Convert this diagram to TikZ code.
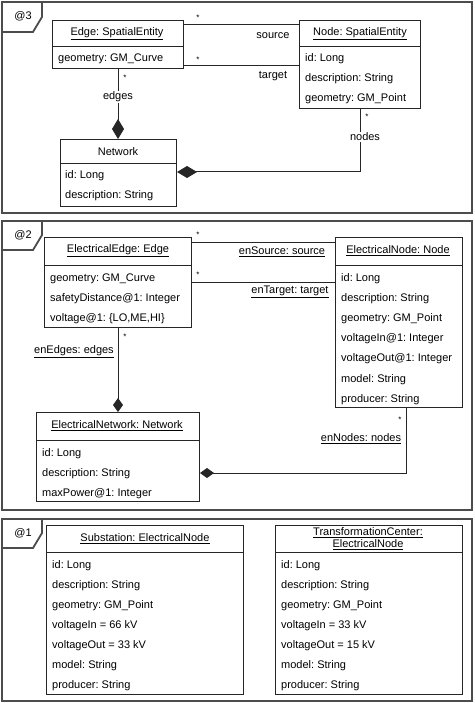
\documentclass[tikz,border=0pt]{standalone}
\usepackage{fontspec}
\setmainfont{Liberation Sans}
\usetikzlibrary{arrows.meta,positioning,calc}
\frenchspacing

\begin{document}
\begin{tikzpicture}[x=1pt,y=-1pt,>=latex,
  every node/.style={font=\fontsize{11}{12}\selectfont},
  frame/.style={draw=black!70,line width=1.8pt},
  box/.style={draw=black!85,line width=1pt,fill=white,anchor=north west,inner sep=0pt},
  attr/.style={anchor=west,inner sep=0pt},
  mult/.style={font=\footnotesize,inner sep=1pt},
  link/.style={draw=black!85,line width=1pt},
  comp/.style={link,-{Diamond[length=20pt,width=12pt]}},
  smallcomp/.style={link,-{Diamond[length=14pt,width=10pt]}}]
  \useasboundingbox (0,0) rectangle (474,703);

  % level @3
  \draw[frame] (2,2) rectangle (472,213);
  \draw[frame] (2,32) -- (33,32) -- (42,17) -- (42,2);
  \node (lvlC) at (23,16) {@3};
  \node[box,minimum width=131pt,minimum height=48pt] (edge) at (52,20) {};
  \draw[link] (edge.west |- 0,47) -- (edge.east |- 0,47);
  \node (edgeT) at (117,34) {\underline{Edge: SpatialEntity}};
  \node[attr] (edgeA) at (58,59) {geometry: GM\_Curve};
  \node[box,minimum width=121pt,minimum height=88pt] (node) at (299,20) {};
  \draw[link] (node.west |- 0,47) -- (node.east |- 0,47);
  \node (nodeT) at (360,34) {\underline{Node: SpatialEntity}};
  \node[attr] (nodeA) at (305,59) {id: Long};
  \node[attr] (nodeB) at (305,79) {description: String};
  \node[attr] (nodeC) at (305,99) {geometry: GM\_Point};
  \node[box,minimum width=116pt,minimum height=67pt] (net) at (60,139) {};
  \draw[link] (net.west |- 0,164) -- (net.east |- 0,164);
  \node (netT) at (118,152) {Network};
  \node[attr] (netA) at (65,176) {id: Long};
  \node[attr] (netB) at (65,196) {description: String};
  \draw[link] (edge.east |- 0,25) -- (node.west |- 0,25);
  \node[mult] (srcM) at (198,18) {*};
  \node (srcL) at (273,36) {source};
  \draw[link] (edge.east |- 0,66) -- (node.west |- 0,66);
  \node[mult] (tgtM) at (198,60) {*};
  \node (tgtL) at (273,76) {target};
  \draw[comp] (edge.south) -- (edge.south |- net.north);
  \node[mult] (edgM) at (125,78) {*};
  \node[fill=white,inner sep=1pt] (edgL) at (118,97) {edges};
  \draw[comp] (node.south) |- (net.east |- 0,172);
  \node[mult] (nodM) at (367,117) {*};
  \node[fill=white,inner sep=1pt] (nodL) at (365,137) {nodes};

  % level @2
  \draw[frame] (2,221) rectangle (472,510);
  \draw[frame] (2,250) -- (33,250) -- (42,235) -- (42,221);
  \node (lvlB) at (23,235) {@2};
  \node[box,minimum width=147pt,minimum height=90pt] (eedge) at (44,237) {};
  \draw[link] (eedge.west |- 0,265) -- (eedge.east |- 0,265);
  \node (eedgeT) at (118,251) {\underline{ElectricalEdge: Edge}};
  \node[attr] (eedgeA) at (50,279) {geometry: GM\_Curve};
  \node[attr] (eedgeB) at (50,299) {safetyDistance@1: Integer};
  \node[attr] (eedgeC) at (50,319) {voltage@1: \{LO,ME,HI\}};
  \node[box,minimum width=127pt,minimum height=170pt] (enode) at (335,237) {};
  \draw[link] (enode.west |- 0,265) -- (enode.east |- 0,265);
  \node (enodeT) at (398,251) {\underline{ElectricalNode: Node}};
  \node[attr] (enodeA) at (341,279) {id: Long};
  \node[attr] (enodeB) at (341,299) {description: String};
  \node[attr] (enodeC) at (341,319) {geometry: GM\_Point};
  \node[attr] (enodeD) at (341,339) {voltageIn@1: Integer};
  \node[attr] (enodeE) at (341,359) {voltageOut@1: Integer};
  \node[attr] (enodeF) at (341,380) {model: String};
  \node[attr] (enodeG) at (341,400) {producer: String};
  \node[box,minimum width=163pt,minimum height=89pt] (enet) at (36,412) {};
  \draw[link] (enet.west |- 0,440) -- (enet.east |- 0,440);
  \node (enetT) at (117,426) {\underline{ElectricalNetwork: Network}};
  \node[attr] (enetA) at (42,454) {id: Long};
  \node[attr] (enetB) at (42,474) {description: String};
  \node[attr] (enetC) at (42,494) {maxPower@1: Integer};
  \draw[link] (eedge.east |- 0,242) -- (enode.west |- 0,242);
  \node[mult] (esrcM) at (198,235) {*};
  \node (esrcL) at (282,252) {\underline{enSource: source}};
  \draw[link] (eedge.east |- 0,282) -- (enode.west |- 0,282);
  \node[mult] (etgtM) at (198,275) {*};
  \node (etgtL) at (290,292) {\underline{enTarget: target}};
  \draw[smallcomp] (eedge.south) -- (eedge.south |- enet.north);
  \node[mult] (eedgM) at (125,337) {*};
  \node (eedgL) at (74,352) {\underline{enEdges: edges}};
  \draw[smallcomp] ($(enode.south)+(7.5,0)$) |- (enet.east |- 0,473);
  \node[mult] (enodM) at (400,420) {*};
  \node (enodL) at (361,439) {\underline{enNodes: nodes}};

  % level @1
  \draw[frame] (2,519) rectangle (472,701);
  \draw[frame] (2,548) -- (33,548) -- (42,533) -- (42,519);
  \node (lvlA) at (23,533) {@1};
  \node[box,minimum width=197pt,minimum height=169pt] (sub) at (46,525) {};
  \draw[link] (sub.west |- 0,552) -- (sub.east |- 0,552);
  \node (subT) at (145,539) {\underline{Substation: ElectricalNode}};
  \node[box,minimum width=187pt,minimum height=169pt] (tc) at (275,525) {};
  \draw[link] (tc.west |- 0,552) -- (tc.east |- 0,552);
  \node[align=center] (tcT) at (368,539) {\underline{TransformationCenter:}\\\underline{ElectricalNode}};
  \foreach \who/\ax/\vin/\vout in {sub/52/66/33,tc/281/33/15} {
    \node[attr] (\who A) at (\ax,566) {id: Long};
    \node[attr] (\who B) at (\ax,586) {description: String};
    \node[attr] (\who C) at (\ax,606) {geometry: GM\_Point};
    \node[attr] (\who D) at (\ax,626) {voltageIn = \vin{} kV};
    \node[attr] (\who E) at (\ax,646) {voltageOut = \vout{} kV};
    \node[attr] (\who F) at (\ax,666) {model: String};
    \node[attr] (\who G) at (\ax,686) {producer: String};
  }
\end{tikzpicture}
\end{document}
